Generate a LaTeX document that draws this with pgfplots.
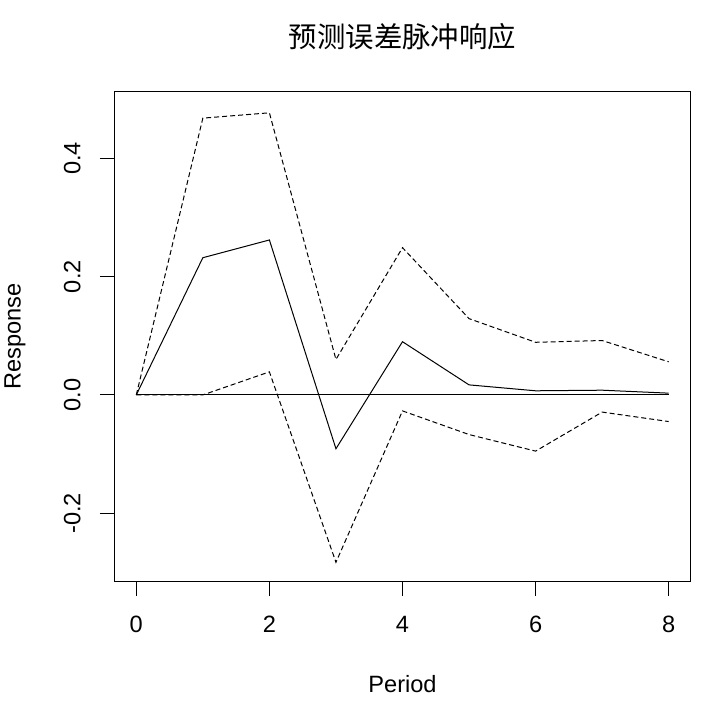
\documentclass[border=0pt]{standalone}
\usepackage{pgfplots}
\pgfplotsset{compat=1.18}
\usepackage{fontspec}
\setmainfont{Liberation Sans}
\newfontfamily\cjk{Noto Sans CJK SC}
\begin{document}
\begin{tikzpicture}
\useasboundingbox (-57.5pt,-61.5pt) rectangle (294pt,290.5pt);
\begin{axis}[
  at={(0,0)}, anchor=south west,
  scale only axis,
  width=287.5pt, height=244.5pt,
  xmin=-0.32, xmax=8.32,
  ymin=-0.3146, ymax=0.5122,
  axis line style={line width=0.5pt},
  xtick={0,2,4,6,8},
  ytick={-0.2,0,0.2,0.4},
  tick align=outside,
  xtick pos=bottom, ytick pos=left,
  major tick length=7.5pt,
  every tick/.style={black, line width=0.5pt},
  /pgf/number format/assume math mode=true,
  yticklabel style={/pgf/number format/fixed, /pgf/number format/fixed zerofill, /pgf/number format/precision=1},
  scaled y ticks=false,
  tick label style={font=\fontsize{11.8}{14}\selectfont, inner sep=0pt},
  xticklabel style={anchor=north},
  xticklabel shift=10pt,
  yticklabel style={rotate=90, anchor=south},
  yticklabel shift=9.5pt,
  xlabel={Period},
  ylabel={Response},
  label style={font=\fontsize{11.8}{14}\selectfont},
  xlabel style={at={(axis description cs:0.5,0)}, anchor=center, yshift=-51.5pt},
  ylabel style={at={(axis description cs:-0.1739,0.5)}, anchor=center},
  title={\cjk 预测误差脉冲响应},
  title style={font=\fontsize{14.2}{17}\selectfont, at={(axis description cs:0.5,1.088)}, anchor=center},
]
\addplot[black, line width=0.5pt] coordinates {(0,0) (8,0)};
\addplot[black, line width=0.5pt] coordinates {
(0,0) (1,0.232) (2,0.262) (3,-0.091) (4,0.090) (5,0.017) (6,0.007) (7,0.008) (8,0.003)};
\addplot[black, line width=0.5pt, dash pattern=on 2.5pt off 1.5pt] coordinates {
(0,0) (1,0.468) (2,0.477) (3,0.060) (4,0.249) (5,0.129) (6,0.089) (7,0.092) (8,0.056)};
\addplot[black, line width=0.5pt, dash pattern=on 2.5pt off 1.5pt] coordinates {
(0,0) (1,0.000) (2,0.039) (3,-0.283) (4,-0.027) (5,-0.067) (6,-0.095) (7,-0.029) (8,-0.045)};
\end{axis}
\end{tikzpicture}
\end{document}
